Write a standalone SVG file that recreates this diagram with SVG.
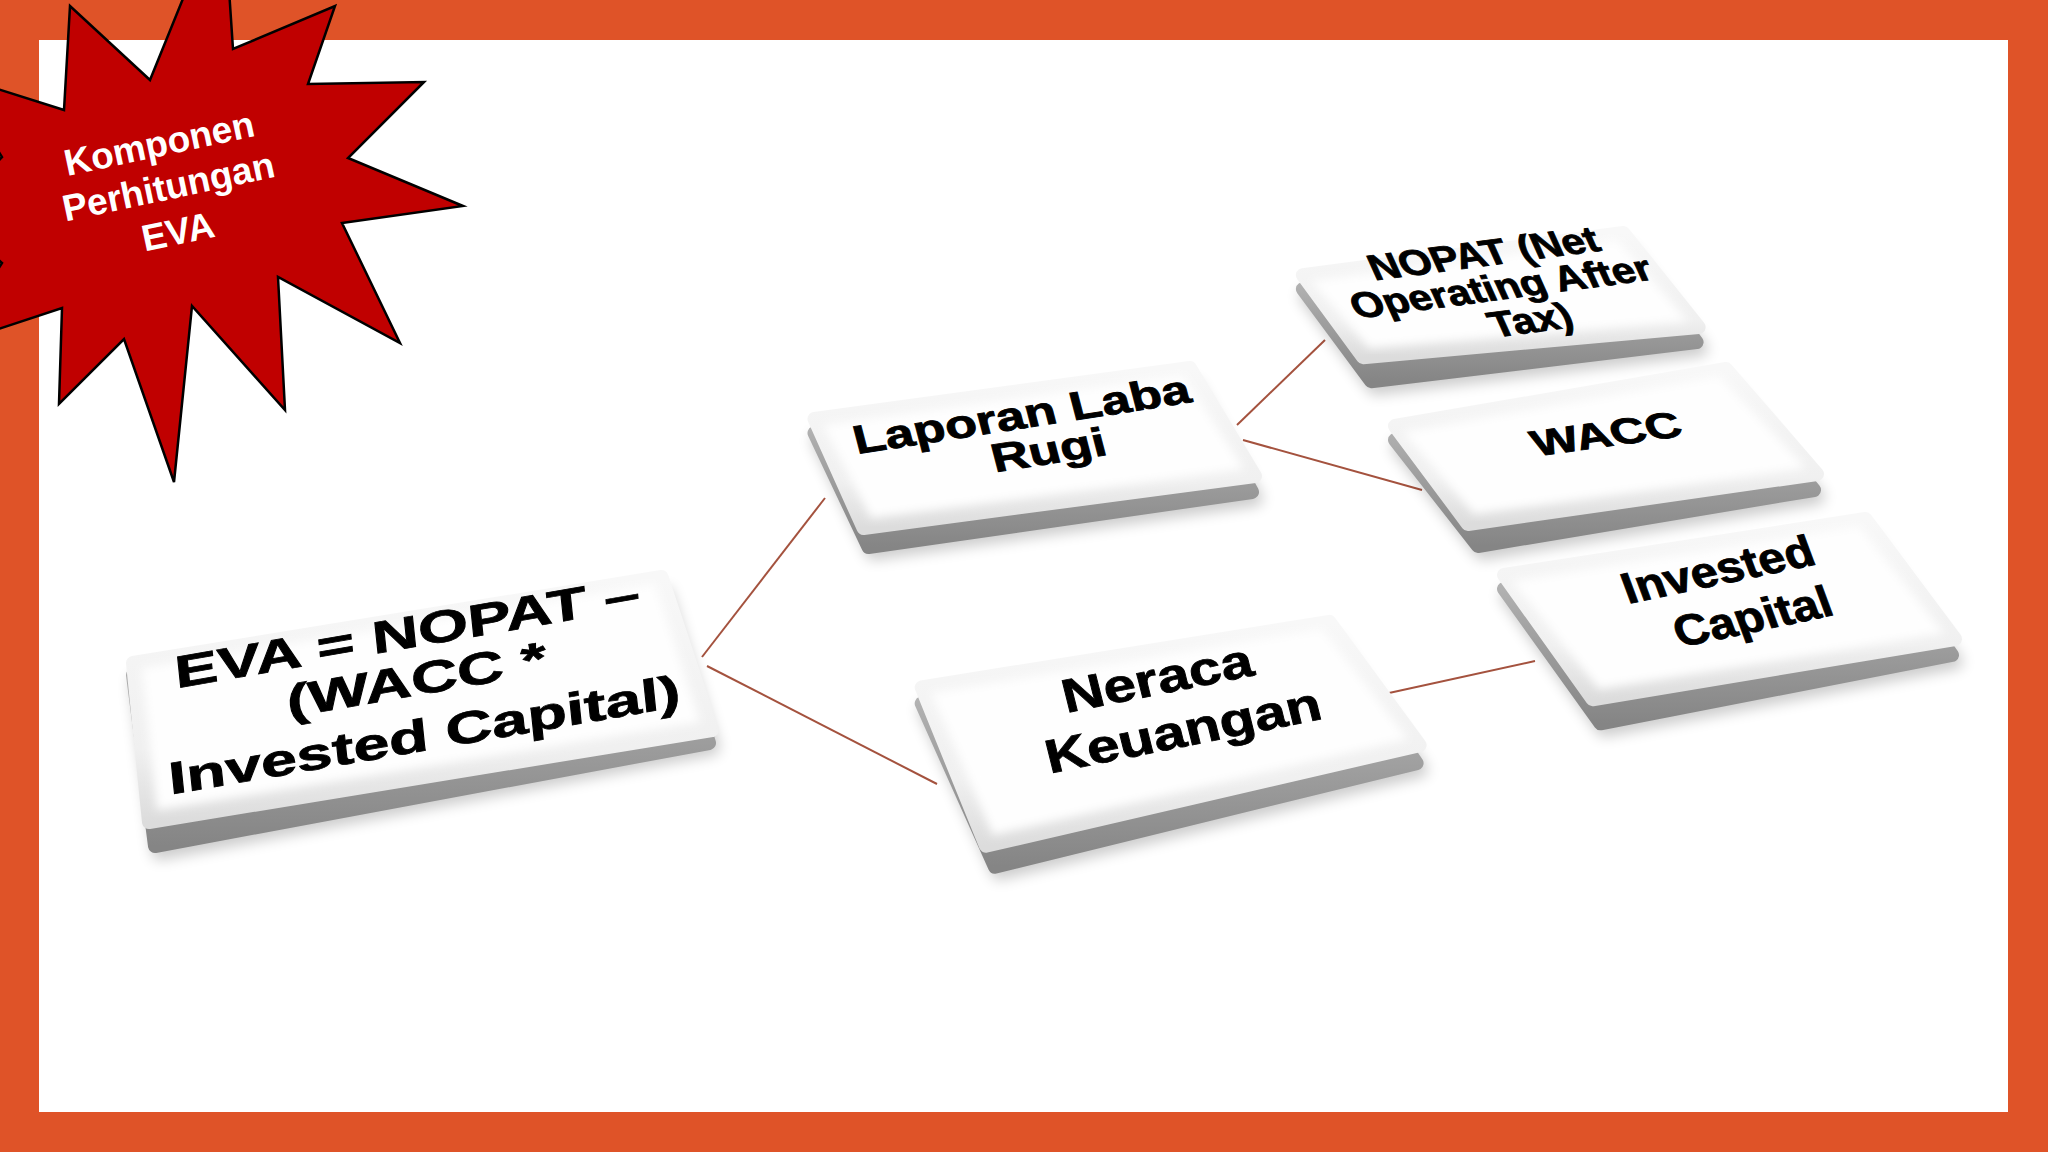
<svg xmlns="http://www.w3.org/2000/svg" width="2048" height="1152" viewBox="0 0 2048 1152">
<defs>
<linearGradient id="fg" x1="0" y1="0" x2="0" y2="1"><stop offset="0" stop-color="#f8f8f8"/><stop offset="0.7" stop-color="#f0f0f0"/><stop offset="1" stop-color="#dcdcdc"/></linearGradient>
<linearGradient id="sg" x1="0" y1="0" x2="0" y2="1"><stop offset="0" stop-color="#c4c4c4"/><stop offset="0.55" stop-color="#a0a0a0"/><stop offset="1" stop-color="#858585"/></linearGradient>
<filter id="sh" x="-10%" y="-20%" width="120%" height="150%"><feGaussianBlur stdDeviation="7"/></filter>
<filter id="soft" x="-5%" y="-5%" width="110%" height="110%"><feGaussianBlur stdDeviation="5"/></filter>
<style>
.shadow{fill:#000;opacity:0.2;stroke:#000;stroke-width:14;stroke-linejoin:round;filter:url(#sh)}
.side{fill:url(#sg);stroke:url(#sg);stroke-width:14;stroke-linejoin:round}
.face{fill:url(#fg);stroke:url(#fg);stroke-width:14;stroke-linejoin:round}
.hi{fill:#fefefe;filter:url(#soft)}
.lbl{font-family:"Liberation Sans",Arial,sans-serif;font-weight:bold;fill:#000;stroke:#000;stroke-width:0.8;text-anchor:middle}
.star{font-family:"Liberation Sans",Arial,sans-serif;font-weight:bold;fill:#fff;text-anchor:middle;font-size:37px}
.conn{stroke:#a4523e;stroke-width:2;fill:none}
</style>
</defs>
<rect x="0" y="0" width="2048" height="1152" fill="#df5328"/>
<rect x="39" y="40" width="1969" height="1072" fill="#ffffff"/>

<g id="connectors">
<line class="conn" x1="702" y1="657" x2="825" y2="498"/>
<line class="conn" x1="707" y1="666" x2="937" y2="784"/>
<line class="conn" x1="1237" y1="425" x2="1325" y2="340"/>
<line class="conn" x1="1243" y1="440" x2="1422" y2="490"/>
<line class="conn" x1="1389" y1="693" x2="1535" y2="661"/>
</g>

<g id="node-eva">
<polygon class="shadow" points="137,682 665,594 713,748 159,853"/>
<polygon class="side" points="133,675 661.5,587 709,743 155,846"/>
<polygon class="face" points="133,663 661.5,577 712,730 149,822"/>
<polygon class="hi" points="142,668 655,584 700,722 157,810"/>
<g class="lbl" font-size="45" transform="matrix(1.42,-0.246,0.103,0.995,418,695)">
<text x="-3" y="-48">EVA = NOPAT –</text>
<text x="0" y="0">(WACC *</text>
<text x="1.5" y="56">Invested Capital)</text>
</g>
</g>

<g id="node-laporan">
<polygon class="shadow" points="818,440 1193,387 1256,499 873,553"/>
<polygon class="side" points="814.5,433 1190,380 1252,492 868.5,547"/>
<polygon class="face" points="814.5,419 1190,368 1255,476 863.5,528"/>
<polygon class="hi" points="823,425 1183,375 1244,469 871,518"/>
<g class="lbl" font-size="39" transform="matrix(1.314,-0.204,0.26,1.0,1025,428)">
<text x="0" y="0">Laporan Laba</text>
<text x="13" y="38">Rugi</text>
</g>
</g>

<g id="node-neraca">
<polygon class="shadow" points="925,710 1333,643 1421,770 999,873"/>
<polygon class="side" points="921.7,703.4 1329.4,635.8 1416.6,763.1 994.9,866.7"/>
<polygon class="face" points="921.7,687.4 1329.4,621.8 1419.6,745.1 985.9,845.7"/>
<polygon class="hi" points="931,693 1322,629 1408,739 993,835"/>
<g class="lbl" font-size="46" transform="matrix(1.235,-0.248,0.25,1.0,1161,694)">
<text x="0" y="0">Neraca</text>
<text x="10" y="54.5">Keuangan</text>
</g>
</g>

<g id="node-nopat">
<polygon class="shadow" points="1306,296 1627,252 1701,349 1375,388"/>
<polygon class="side" points="1302.9,289.1 1623.4,245 1696.6,342.1 1371.1,381.2"/>
<polygon class="face" points="1302.9,275.1 1623.4,233 1698.6,327.1 1363.1,357.2"/>
<polygon class="hi" points="1311,281 1617,240 1688,321 1369,348"/>
<g class="lbl" font-size="35" transform="matrix(1.17,-0.155,0.45,1.0,1506,299)">
<text x="-1.6" y="-33.8">NOPAT (Net</text>
<text x="0" y="0">Operating After</text>
<text x="12" y="35">Tax)</text>
</g>
</g>

<g id="node-wacc">
<polygon class="shadow" points="1398,447 1729,390 1818,497 1482,553"/>
<polygon class="side" points="1395,440 1726,383 1814,490 1478,546"/>
<polygon class="face" points="1395,426 1726,369 1817,474 1468,524"/>
<polygon class="hi" points="1403,432 1719,376 1806,468 1474,514"/>
<g class="lbl" font-size="35" transform="matrix(1.386,-0.193,0.4,1.0,1611,446)">
<text x="0" y="0">WACC</text>
</g>
</g>

<g id="node-invested">
<polygon class="shadow" points="1507,596 1868,540 1956,662 1604,730"/>
<polygon class="side" points="1504,589 1865.4,533 1952,655 1600.6,723.3"/>
<polygon class="face" points="1504,575 1865.4,519 1955,639 1592.6,699.3"/>
<polygon class="hi" points="1512,581 1859,526 1944,633 1599,689"/>
<g class="lbl" font-size="42" transform="matrix(1.116,-0.235,0.37,1.0,1723,584)">
<text x="0" y="0">Invested</text>
<text x="14.6" y="50.5">Capital</text>
</g>
</g>

<g id="node-starburst">
<polygon points="223,-100 233,49 335,6 308,84 424,82 348,158 463,206 342,223 400,343 278,277 285,410 192,306 174,482 124,339 59,404 62,308 -50,345 2,263 -50,215 2,157 -50,74 64,110 70,6 150,80" fill="#c00000" stroke="#000" stroke-width="2.5" stroke-linejoin="miter"/>
<g transform="translate(171,199) rotate(-12)">
<text class="star" x="0" y="-44">Komponen</text>
<text class="star" x="0" y="0">Perhitungan</text>
<text class="star" x="0" y="46">EVA</text>
</g>
</g>
</svg>
